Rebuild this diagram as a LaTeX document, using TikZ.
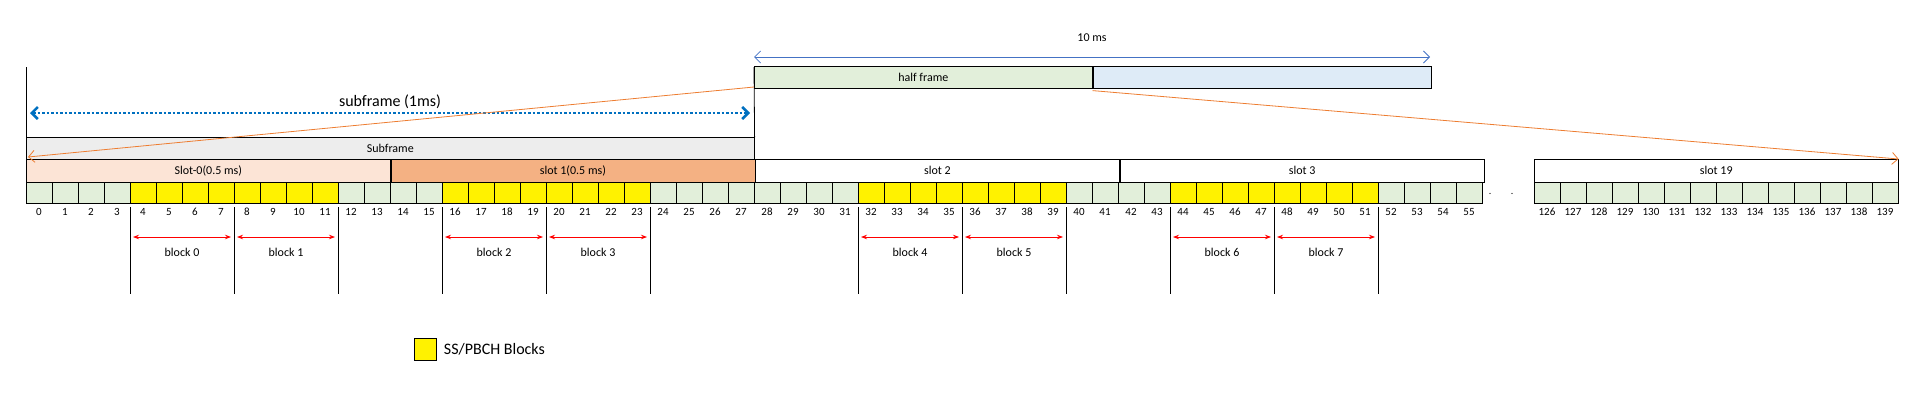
\documentclass[tikz,border=0pt]{standalone}
\usepackage{fontspec}
\setmainfont{Carlito}
\usetikzlibrary{arrows.meta,positioning}
\definecolor{cellgreen}{HTML}{E2EFDA}
\definecolor{slotpink}{HTML}{FCE4D6}
\definecolor{slotorange}{HTML}{F4B183}
\definecolor{sfgray}{HTML}{EDEDED}
\definecolor{hfblue}{HTML}{DEEBF7}
\definecolor{lineorange}{HTML}{ED7D31}
\definecolor{arrowblue}{HTML}{4472C4}
\definecolor{dotblue}{HTML}{0070C0}
\begin{document}
\begin{tikzpicture}[x=1pt,y=-1pt,semithick,
  cell/.style={draw,fill=cellgreen,minimum width=26pt,minimum height=21pt,inner sep=0pt,anchor=north west},
  ss/.style={cell,fill=yellow},
  slotbox/.style={draw,minimum width=364pt,minimum height=23pt,inner sep=0pt,anchor=north west,font=\fontsize{12}{13}\selectfont},
  num/.style={font=\fontsize{11}{12}\selectfont},
  blockarrow/.style={{Stealth[length=6pt]}-{Stealth[length=6pt]},red,thick},
  zoomline/.style={-{Straight Barb[length=6pt]},lineorange,thick}]
\useasboundingbox (0,0) rectangle (1920,400);

% time line on top
\node (hf) [draw,fill=cellgreen,minimum width=338pt,minimum height=22pt,inner sep=0pt,anchor=north west,font=\fontsize{12}{13}\selectfont] at (754,66) {half frame};
\node (hf2) [draw,fill=hfblue,minimum width=338pt,minimum height=22pt,inner sep=0pt,right=0pt of hf] {};
\coordinate (tl) at (754,57);
\coordinate (tr) at (1430,57);
\draw [{Straight Barb[length=6pt]}-{Straight Barb[length=6pt]},arrowblue,thick] (tl) -- node[above=12pt,black,font=\fontsize{12}{13}\selectfont] {10 ms} (tr);

% subframe
\node (sf) [draw,fill=sfgray,minimum width=728pt,minimum height=22pt,inner sep=0pt,anchor=north west,font=\fontsize{12}{13}\selectfont] at (26,137) {Subframe};
\coordinate (sfa) at (26,67);
\coordinate (sfb) at (754,67);
\draw [thick] (sfa) -- (sf.north west);
\draw [thick] (sfb) -- (sf.north east);
\coordinate (dl) at (30,113);
\coordinate (dr) at (750,113);
\draw [{Straight Barb[length=6pt]}-{Straight Barb[length=6pt]},dotblue,line width=2.5pt,dotted] (dl) -- (dr);
\node [font=\fontsize{16}{17}\selectfont] at (390,102) {subframe (1ms)};

% slots
\node (s0) [slotbox,fill=slotpink] at (26,159) {Slot-0(0.5 ms)};
\node (s1) [slotbox,fill=slotorange,right=0pt of s0] {slot 1(0.5 ms)};
\node (s2) [slotbox,right=0pt of s1] {slot 2};
\node (s3) [slotbox,right=0pt of s2] {slot 3};
\node (s19) [slotbox] at (1534,159) {slot 19};

% cells
\foreach \i in {0,...,55}{
  \def\st{cell}
  \ifnum\i>3 \ifnum\i<12 \def\st{ss}\fi\fi
  \ifnum\i>15 \ifnum\i<24 \def\st{ss}\fi\fi
  \ifnum\i>31 \ifnum\i<40 \def\st{ss}\fi\fi
  \ifnum\i>43 \ifnum\i<52 \def\st{ss}\fi\fi
  \node (c\i) [\st] at (26+26*\i,182) {};
  \node [num] at (39+26*\i,212) {\i};
}
\foreach \i in {126,...,139}{
  \node (c\i) [cell] at (1534+26*\i-26*126,182) {};
  \node [num] at (1547+26*\i-26*126,212) {\i};
}
\node at (1490,194) {.};
\node at (1512,194) {.};

% blocks
\foreach \a/\n in {4/0,16/2,32/4,44/6}{
  \pgfmathsetmacro{\xa}{26+26*\a}
  \draw [thick] (\xa,207) -- (\xa,294);
  \draw [thick] (\xa+104,207) -- (\xa+104,294);
  \draw [thick] (\xa+208,207) -- (\xa+208,294);
  \pgfmathtruncatemacro{\nb}{\n+1}
  \draw [blockarrow] (\xa+3,237) -- node[below=7pt,black,font=\fontsize{12}{13}\selectfont] {block \n} (\xa+101,237);
  \draw [blockarrow] (\xa+107,237) -- node[below=7pt,black,font=\fontsize{12}{13}\selectfont] {block \nb} (\xa+205,237);
}

% zoom lines
\coordinate (z1) at (754,87);
\coordinate (z2) at (28,157);
\draw [zoomline] (z1) -- (z2);
\draw [zoomline] (hf.south east) ++(0,2) -- (s19.north east);

% legend
\node (lg) [draw,fill=yellow,minimum width=22pt,minimum height=22pt] at (425,349) {};
\node [right=4pt of lg,font=\fontsize{16}{17}\selectfont] {SS/PBCH Blocks};
\end{tikzpicture}
\end{document}
